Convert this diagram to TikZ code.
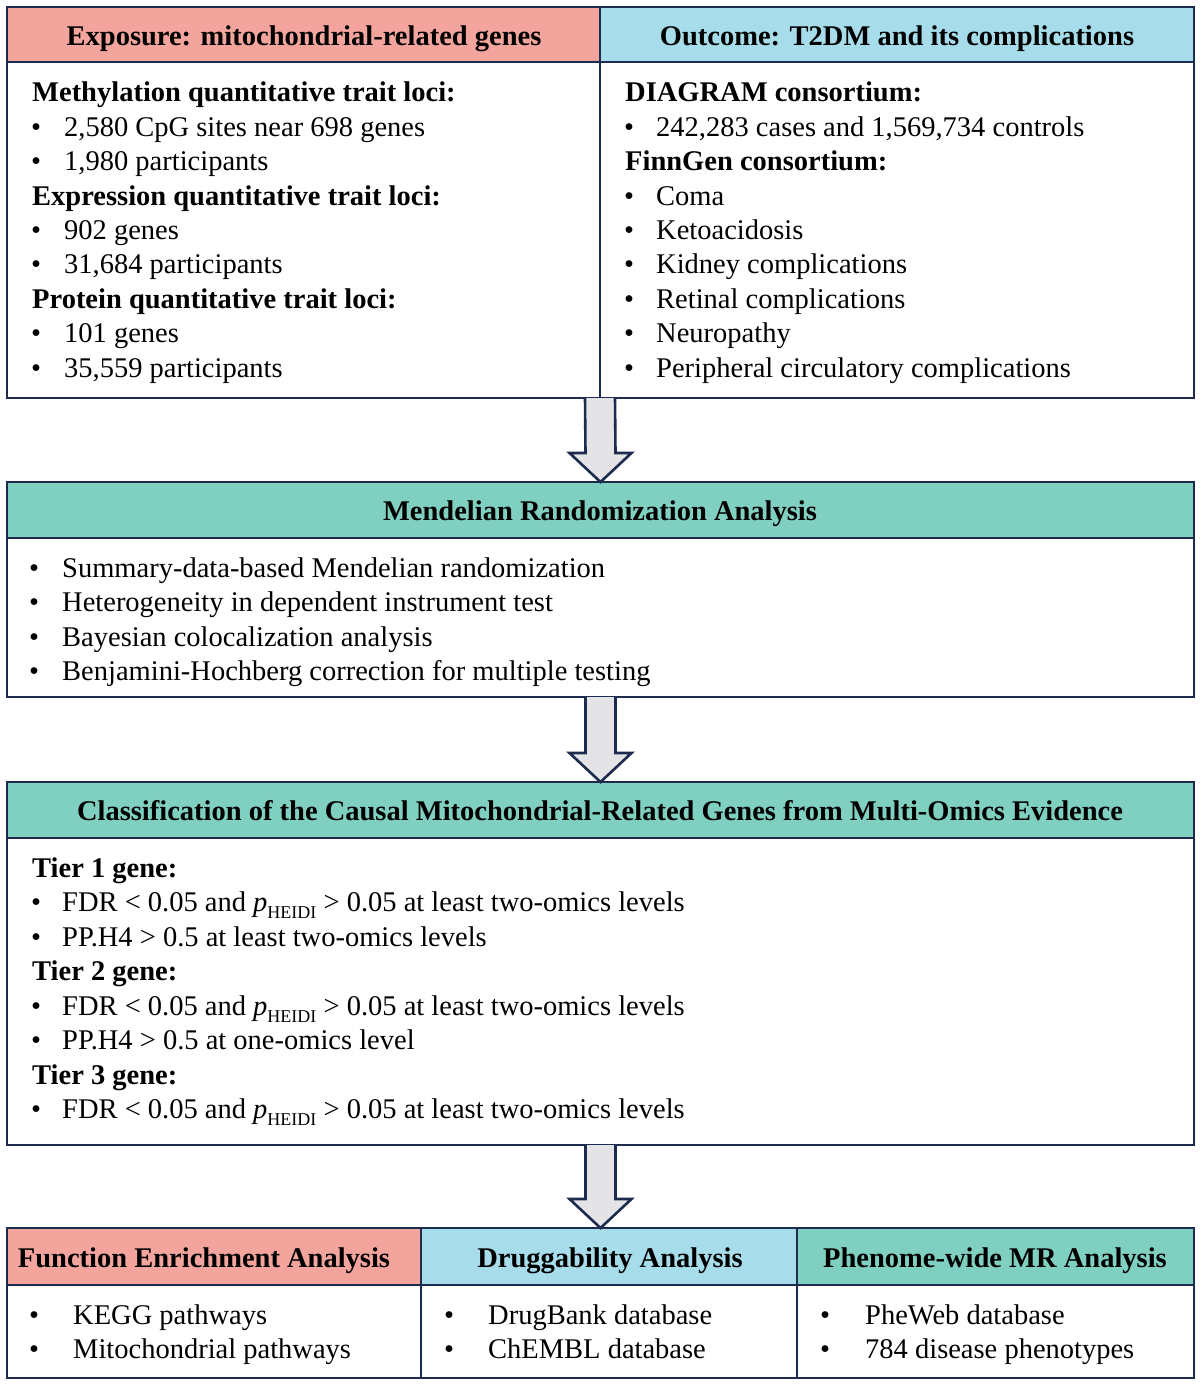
\documentclass[tikz,border=0pt]{standalone}
\usepackage{fontspec}
\setmainfont{Liberation Serif}
\usetikzlibrary{calc}
\definecolor{navy}{HTML}{1C2B4E}
\definecolor{salmon}{HTML}{F3A59D}
\definecolor{skyb}{HTML}{A7DDEA}
\definecolor{teal2}{HTML}{80D0C2}
\definecolor{arrgray}{HTML}{E4E4E7}
\newcommand\pheidi{\textit{p}\raisebox{-0.25em}{\fontsize{18}{18}\selectfont HEIDI}}
\begin{document}
\begin{tikzpicture}[x=1pt,y=-1pt,
  boxst/.style={draw=navy,line width=2.6pt,inner sep=0pt,outer sep=0pt,anchor=north west},
  txt/.style={anchor=base west,inner sep=0pt,font=\fontsize{28.5}{34}\selectfont},
  hd/.style={txt,font=\fontsize{28.5}{34}\selectfont\bfseries},
  htitle/.style={anchor=base,inner sep=0pt,font=\fontsize{28.5}{34}\selectfont\bfseries},
  arr/.style={draw=navy,fill=arrgray,line width=2.6pt,line join=miter}]
\useasboundingbox (0,0) rectangle (1200,1384);
\fill[white] (0,0) rectangle (1200,1384);
\newcommand\bx[6]{\node[boxst,fill=#6,minimum width=#4pt-#2pt,minimum height=#5pt-#3pt] (#1) at (#2,#3) {};}
\newcommand\blockarrow[2]{\filldraw[arr] ($(#1)+(-15,0)$) -- ($(#2)+(-15,-29)$) -- ($(#2)+(-31,-29)$) -- (#2) -- ($(#2)+(31,-29)$) -- ($(#2)+(15,-29)$) -- ($(#1)+(15,0)$);}
\newcommand\bul[5]{\node[txt] (#1b) at (#2,#4) {•}; \node[txt] (#1) at (#3,#4) {#5};}

% ---- top boxes
\bx{hl}{7}{7}{600}{62}{salmon}
\bx{hr}{600}{7}{1194}{62}{skyb}
\bx{bl}{7}{62}{600}{398}{white}
\bx{br}{600}{62}{1194}{398}{white}
\node[htitle] (hlt) at (304,45) {Exposure: mitochondrial-related genes};
\node[htitle] (hrt) at (897,45) {Outcome: T2DM and its complications};

\node[hd] (l1) at (32,101) {Methylation quantitative trait loci:};
\bul{l2}{31}{64}{136}{2,580 CpG sites near 698 genes}
\bul{l3}{31}{64}{170}{1,980 participants}
\node[hd] (l4) at (32,205) {Expression quantitative trait loci:};
\bul{l5}{31}{64}{239}{902 genes}
\bul{l6}{31}{64}{273}{31,684 participants}
\node[hd] (l7) at (32,308) {Protein quantitative trait loci:};
\bul{l8}{31}{64}{342}{101 genes}
\bul{l9}{31}{64}{377}{35,559 participants}

\node[hd] (r1) at (625,101) {DIAGRAM consortium:};
\bul{r2}{624}{656}{136}{242,283 cases and 1,569,734 controls}
\node[hd] (r3) at (625,170) {FinnGen consortium:};
\bul{r4}{624}{656}{205}{Coma}
\bul{r5}{624}{656}{239}{Ketoacidosis}
\bul{r6}{624}{656}{273}{Kidney complications}
\bul{r7}{624}{656}{308}{Retinal complications}
\bul{r8}{624}{656}{342}{Neuropathy}
\bul{r9}{624}{656}{377}{Peripheral circulatory complications}

% ---- MR box
\bx{mh}{7}{482}{1194}{538}{teal2}
\bx{mb}{7}{538}{1194}{697}{white}
\node[htitle] (mht) at (600,520) {Mendelian Randomization Analysis};
\bul{m1}{29}{62}{577}{Summary-data-based Mendelian randomization}
\bul{m2}{29}{62}{611}{Heterogeneity in dependent instrument test}
\bul{m3}{29}{62}{646}{Bayesian colocalization analysis}
\bul{m4}{29}{62}{680}{Benjamini-Hochberg correction for multiple testing}

% ---- Classification box
\bx{ch}{7}{782}{1194}{838}{teal2}
\bx{cb}{7}{838}{1194}{1145}{white}
\node[htitle] (cht) at (600,820) {Classification of the Causal Mitochondrial-Related Genes from Multi-Omics Evidence};
\node[hd] (c1) at (32,877) {Tier 1 gene:};
\bul{c2}{31}{62}{911}{FDR < 0.05 and \pheidi{} > 0.05 at least two-omics levels}
\bul{c3}{31}{62}{946}{PP.H4 > 0.5 at least two-omics levels}
\node[hd] (c4) at (32,980) {Tier 2 gene:};
\bul{c5}{31}{62}{1015}{FDR < 0.05 and \pheidi{} > 0.05 at least two-omics levels}
\bul{c6}{31}{62}{1049}{PP.H4 > 0.5 at one-omics level}
\node[hd] (c7) at (32,1084) {Tier 3 gene:};
\bul{c8}{31}{62}{1118}{FDR < 0.05 and \pheidi{} > 0.05 at least two-omics levels}

% ---- bottom boxes
\bx{fh}{7}{1228}{421}{1285}{salmon}
\bx{dh}{421}{1228}{797}{1285}{skyb}
\bx{ph}{797}{1228}{1194}{1285}{teal2}
\bx{fb}{7}{1285}{421}{1378}{white}
\bx{db}{421}{1285}{797}{1378}{white}
\bx{pb}{797}{1285}{1194}{1378}{white}
\node[htitle] (fht) at (204,1267) {Function Enrichment Analysis};
\node[htitle] (dht) at (610,1267) {Druggability Analysis};
\node[htitle] (pht) at (995,1267) {Phenome-wide MR Analysis};
\bul{f1}{29}{73}{1324}{KEGG pathways}
\bul{f2}{29}{73}{1358}{Mitochondrial pathways}
\bul{d1}{444}{488}{1324}{DrugBank database}
\bul{d2}{444}{488}{1358}{ChEMBL database}
\bul{p1}{820}{865}{1324}{PheWeb database}
\bul{p2}{820}{865}{1358}{784 disease phenotypes}

% ---- block arrows
\coordinate (a1s) at (bl.south east);
\coordinate (a2s) at (mb.south);
\coordinate (a3s) at (cb.south);
\blockarrow{a1s}{mh.north}
\blockarrow{a2s}{ch.north}
\blockarrow{a3s}{dh.north west -| cb.south}
\end{tikzpicture}
\end{document}
